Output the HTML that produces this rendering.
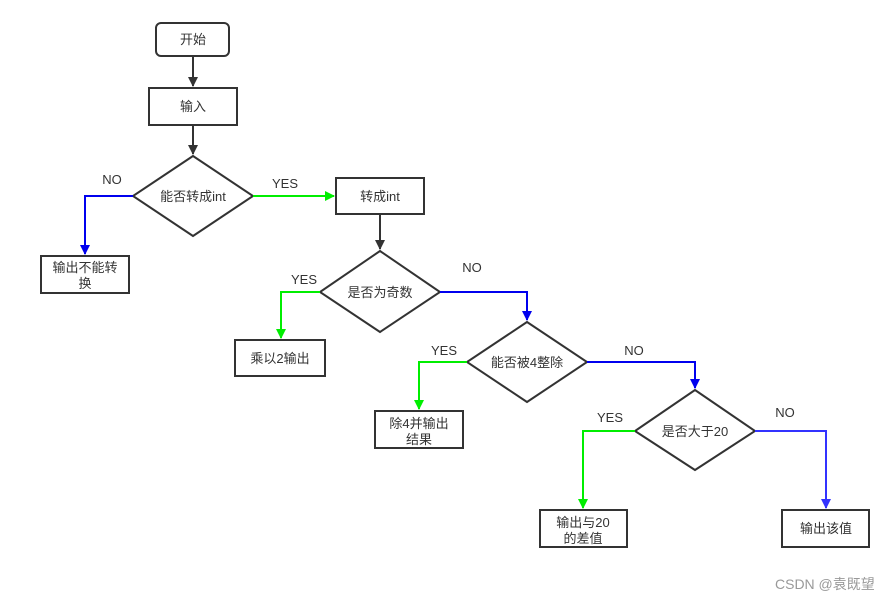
<!DOCTYPE html>
<html><head><meta charset="utf-8"><style>
html,body{margin:0;padding:0;background:#fff;}
svg text{font-family:"Liberation Sans","Noto Sans CJK SC",sans-serif;font-size:13px;fill:#333;}
</style></head><body>
<svg width="891" height="600" viewBox="0 0 891 600" xmlns="http://www.w3.org/2000/svg">
<defs>
<marker id="ak" markerWidth="10" markerHeight="10" refX="9" refY="5" orient="auto" markerUnits="userSpaceOnUse"><path d="M0,0 L10,5 L0,10 z" fill="#333"/></marker>
<marker id="ag" markerWidth="10" markerHeight="10" refX="9" refY="5" orient="auto" markerUnits="userSpaceOnUse"><path d="M0,0 L10,5 L0,10 z" fill="#00ee00"/></marker>
<marker id="ab" markerWidth="10" markerHeight="10" refX="9" refY="5" orient="auto" markerUnits="userSpaceOnUse"><path d="M0,0 L10,5 L0,10 z" fill="#0000ee"/></marker>
<marker id="ab2" markerWidth="10" markerHeight="10" refX="9" refY="5" orient="auto" markerUnits="userSpaceOnUse"><path d="M0,0 L10,5 L0,10 z" fill="#3333ff"/></marker>
</defs>
<g fill="#fff" stroke="#333" stroke-width="2">
<rect x="156" y="23" width="73" height="33" rx="5"/>
<rect x="149" y="88" width="88" height="37"/>
<polygon points="193,156 253,196 193,236 133,196"/>
<rect x="41" y="256" width="88" height="37"/>
<rect x="336" y="178" width="88" height="36"/>
<polygon points="380,251 440,292 380,332 320,292"/>
<rect x="235" y="340" width="90" height="36"/>
<polygon points="527,322 587,362 527,402 467,362"/>
<rect x="375" y="411" width="88" height="37"/>
<polygon points="695,390 755,431 695,470 635,431"/>
<rect x="540" y="510" width="87" height="37"/>
<rect x="782" y="510" width="87" height="37"/>
</g>
<g fill="none" stroke-width="2">
<path d="M193,56 V86" stroke="#333" marker-end="url(#ak)"/>
<path d="M193,125 V154" stroke="#333" marker-end="url(#ak)"/>
<path d="M380,214 V249" stroke="#333" marker-end="url(#ak)"/>
<path d="M133,196 H85 V254" stroke="#0000ee" marker-end="url(#ab)"/>
<path d="M253,196 H334" stroke="#00ee00" marker-end="url(#ag)"/>
<path d="M320,292 H281 V338" stroke="#00ee00" marker-end="url(#ag)"/>
<path d="M440,292 H527 V320" stroke="#0000ee" marker-end="url(#ab)"/>
<path d="M467,362 H419 V409" stroke="#00ee00" marker-end="url(#ag)"/>
<path d="M587,362 H695 V388" stroke="#0000ee" marker-end="url(#ab)"/>
<path d="M635,431 H583 V508" stroke="#00ee00" marker-end="url(#ag)"/>
<path d="M755,431 H826 V508" stroke="#3333ff" marker-end="url(#ab2)"/>
</g>
<g text-anchor="middle">
<text x="193" y="44">开始</text>
<text x="193" y="111">输入</text>
<text x="193" y="201">能否转成int</text>
<text x="85" y="272">输出不能转</text>
<text x="85" y="288">换</text>
<text x="380" y="201">转成int</text>
<text x="380" y="297">是否为奇数</text>
<text x="280" y="363">乘以2输出</text>
<text x="527" y="367">能否被4整除</text>
<text x="419" y="428">除4并输出</text>
<text x="419" y="444">结果</text>
<text x="695" y="436">是否大于20</text>
<text x="583" y="527">输出与20</text>
<text x="583" y="543">的差值</text>
<text x="826" y="533">输出该值</text>
<text x="112" y="184">NO</text>
<text x="285" y="188">YES</text>
<text x="304" y="284">YES</text>
<text x="472" y="272">NO</text>
<text x="444" y="355">YES</text>
<text x="634" y="355">NO</text>
<text x="610" y="422">YES</text>
<text x="785" y="417">NO</text>
</g>
<text x="775" y="589" style="font-size:14px;fill:#999">CSDN @袁既望</text>
</svg>
</body></html>
